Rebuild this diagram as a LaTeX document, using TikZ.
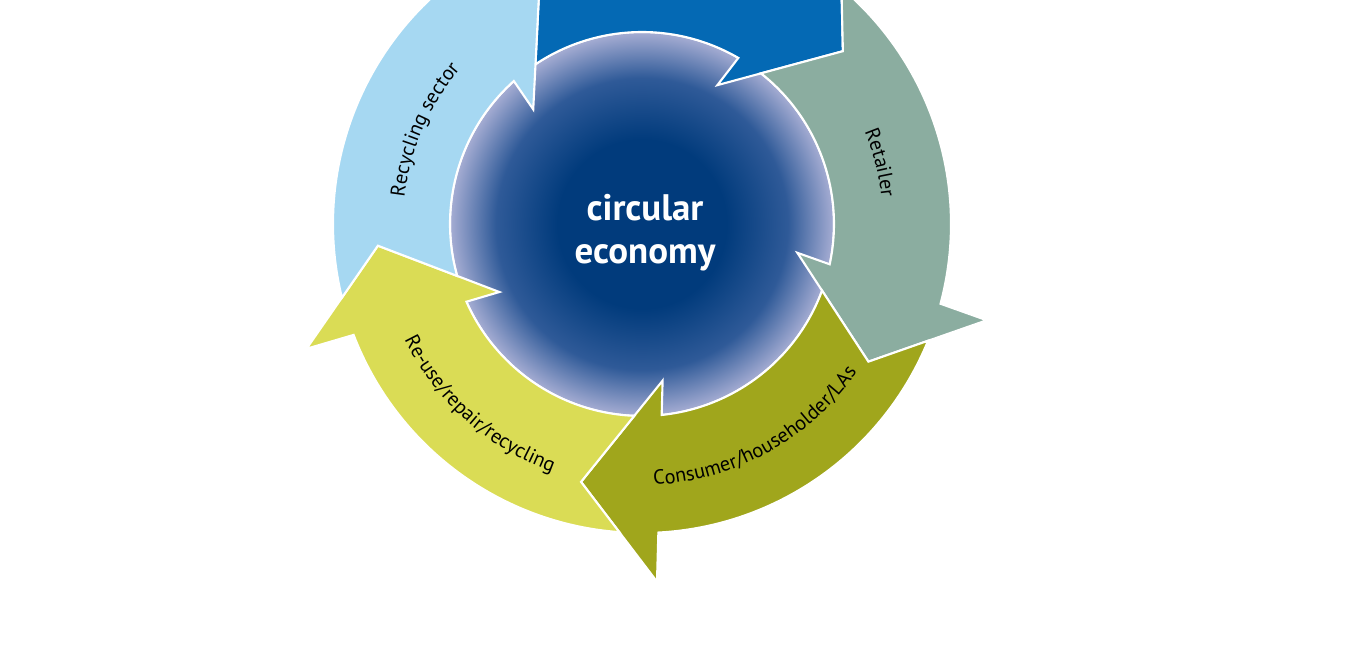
\documentclass[tikz,border=0pt]{standalone}
\usepackage{fontspec}
\setmainfont{PT Sans}
\usepackage{tikz}
\usetikzlibrary{decorations.text}
\usepackage{xcolor}

\definecolor{topblue}{HTML}{0469B4}
\definecolor{recyclingblue}{HTML}{A6D8F2}
\definecolor{retailgreen}{HTML}{8BADA0}
\definecolor{consumerolive}{HTML}{A0A61C}
\definecolor{reuseyellow}{HTML}{DADC55}
\definecolor{coredark}{HTML}{013B7C}
\definecolor{coremid}{HTML}{2F5A98}
\definecolor{coreedge}{HTML}{A6ADD3}

\pgfdeclareradialshading{coreshade}{\pgfpoint{0bp}{0bp}}{%
  color(0bp)=(coredark); color(11bp)=(coredark); color(19bp)=(coremid);
  color(25bp)=(coreedge); color(50bp)=(coreedge)}

% one piece of the ring: #1 = angle of the inner notch of its head, #2 = fill
\newcommand{\ringarrow}[2]{%
  \pgfmathsetmacro{\tailout}{#1+60.3}%
  \pgfmathsetmacro{\tailin}{#1+62.2}%
  \pgfmathsetmacro{\tailtip}{#1+51.2}%
  \pgfmathsetmacro{\baseout}{#1-4.46}%
  \pgfmathsetmacro{\basein}{#1-1.62}%
  \pgfmathsetmacro{\headcorner}{#1-5.1}%
  \pgfmathsetmacro{\headtip}{#1-20.8}%
  \draw[arrowpiece, fill=#2] (\tailout:309)
    arc[start angle=\tailout, end angle=\baseout, radius=309]
    -- (\headcorner:358) -- (\headtip:265) -- (#1:158) -- (\basein:192)
    arc[start angle=\basein, end angle=\tailin, radius=192]
    -- (\tailtip:265) -- cycle;
}

\begin{document}
\begin{tikzpicture}[x=0.02cm, y=0.02cm,
    arrowpiece/.style={draw=white, line width=1.2pt, line join=miter},
    ringlabel/.style={decorate, decoration={text along path, text align=center,
        text={|\fontsize{11.6}{13}\selectfont|#1}}}]
  % page = the 1356 x 668 frame, circle centre at pixel (642,224)
  \useasboundingbox (-642,-444) rectangle (714,224);
  \clip (-642,-444) rectangle (714,224);

  % shaded core
  \shade[shading=coreshade, draw=white, line width=1.2pt] (0,0) circle[radius=192];

  % the five arrows of the ring
  \foreach \ang/\col in {61.5/topblue, -10.5/retailgreen, -82.5/consumerolive,
                         -154.5/reuseyellow, 133.5/recyclingblue}
    \ringarrow{\ang}{\col};

  % labels along the ring
  \path[ringlabel=Recycling sector] (196.6:239) arc[start angle=196.6, end angle=116.6, radius=239];
  \path[ringlabel=Retailer] (54.5:241) arc[start angle=54.5, end angle=-25.5, radius=241];
  \path[ringlabel=Consumer/householder/LAs] (-101:261) arc[start angle=-101, end angle=-21, radius=261];
  \path[ringlabel=Re-use/repair/recycling] (188:264) arc[start angle=188, end angle=268, radius=264];

  \node[text=white, font=\bfseries\fontsize{21}{24.5}\selectfont, align=center] (core) at (3,-9)
    {circular\\economy};
\end{tikzpicture}
\end{document}
